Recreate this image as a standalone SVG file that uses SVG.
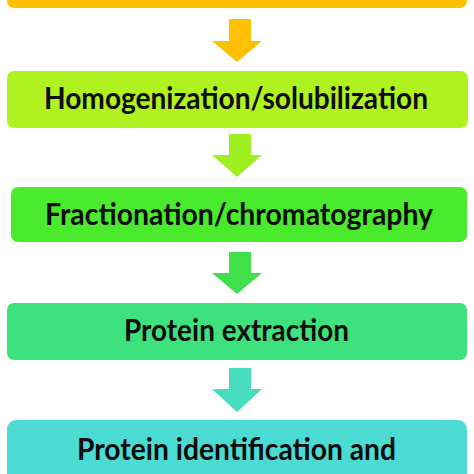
<svg xmlns="http://www.w3.org/2000/svg" width="474" height="474" viewBox="0 0 474 474">
<style>
.lbl{font-family:Lato,"Open Sans","Liberation Sans",sans-serif;font-weight:bold;font-size:30px;fill:#0d0d0d;text-anchor:middle}
</style>
<rect width="474" height="474" fill="#ffffff"/>
<g id="connectors">
<path d="M229,19 H251 V41 H262 L237,62 L212,41 H229 Z" fill="#ffc000"/>
<path d="M229,134 H251 V155 H262 L237,177 L212,155 H229 Z" fill="#9eee22"/>
<path d="M229,252 H251 V273 H262 L237,294 L212,273 H229 Z" fill="#40e04c"/>
<path d="M229,368 H251 V389 H262 L237,412 L212,389 H229 Z" fill="#48dcbe"/>
</g>
<g id="node1"><rect x="7" y="-30" width="460" height="38" rx="7" fill="#ffc000"/></g>
<g id="node2"><rect x="7" y="71" width="461" height="57" rx="7" fill="#aff220"/>
<text class="lbl" x="236" y="109" textLength="384" lengthAdjust="spacingAndGlyphs">Homogenization/solubilization</text></g>
<g id="node3"><rect x="11" y="187" width="456" height="55" rx="7" fill="#4aea2c"/>
<text class="lbl" x="239" y="225" textLength="388" lengthAdjust="spacingAndGlyphs">Fractionation/chromatography</text></g>
<g id="node4"><rect x="7" y="303" width="460" height="57" rx="7" fill="#3de27c"/>
<text class="lbl" x="236.5" y="341" textLength="225" lengthAdjust="spacingAndGlyphs">Protein extraction</text></g>
<g id="node5"><rect x="7" y="420" width="460" height="90" rx="9" fill="#4cdbd3"/>
<text class="lbl" x="236.5" y="460" textLength="319" lengthAdjust="spacingAndGlyphs">Protein identification and</text>
<text class="lbl" x="237" y="497" textLength="175" lengthAdjust="spacingAndGlyphs">quantification</text></g>
</svg>
